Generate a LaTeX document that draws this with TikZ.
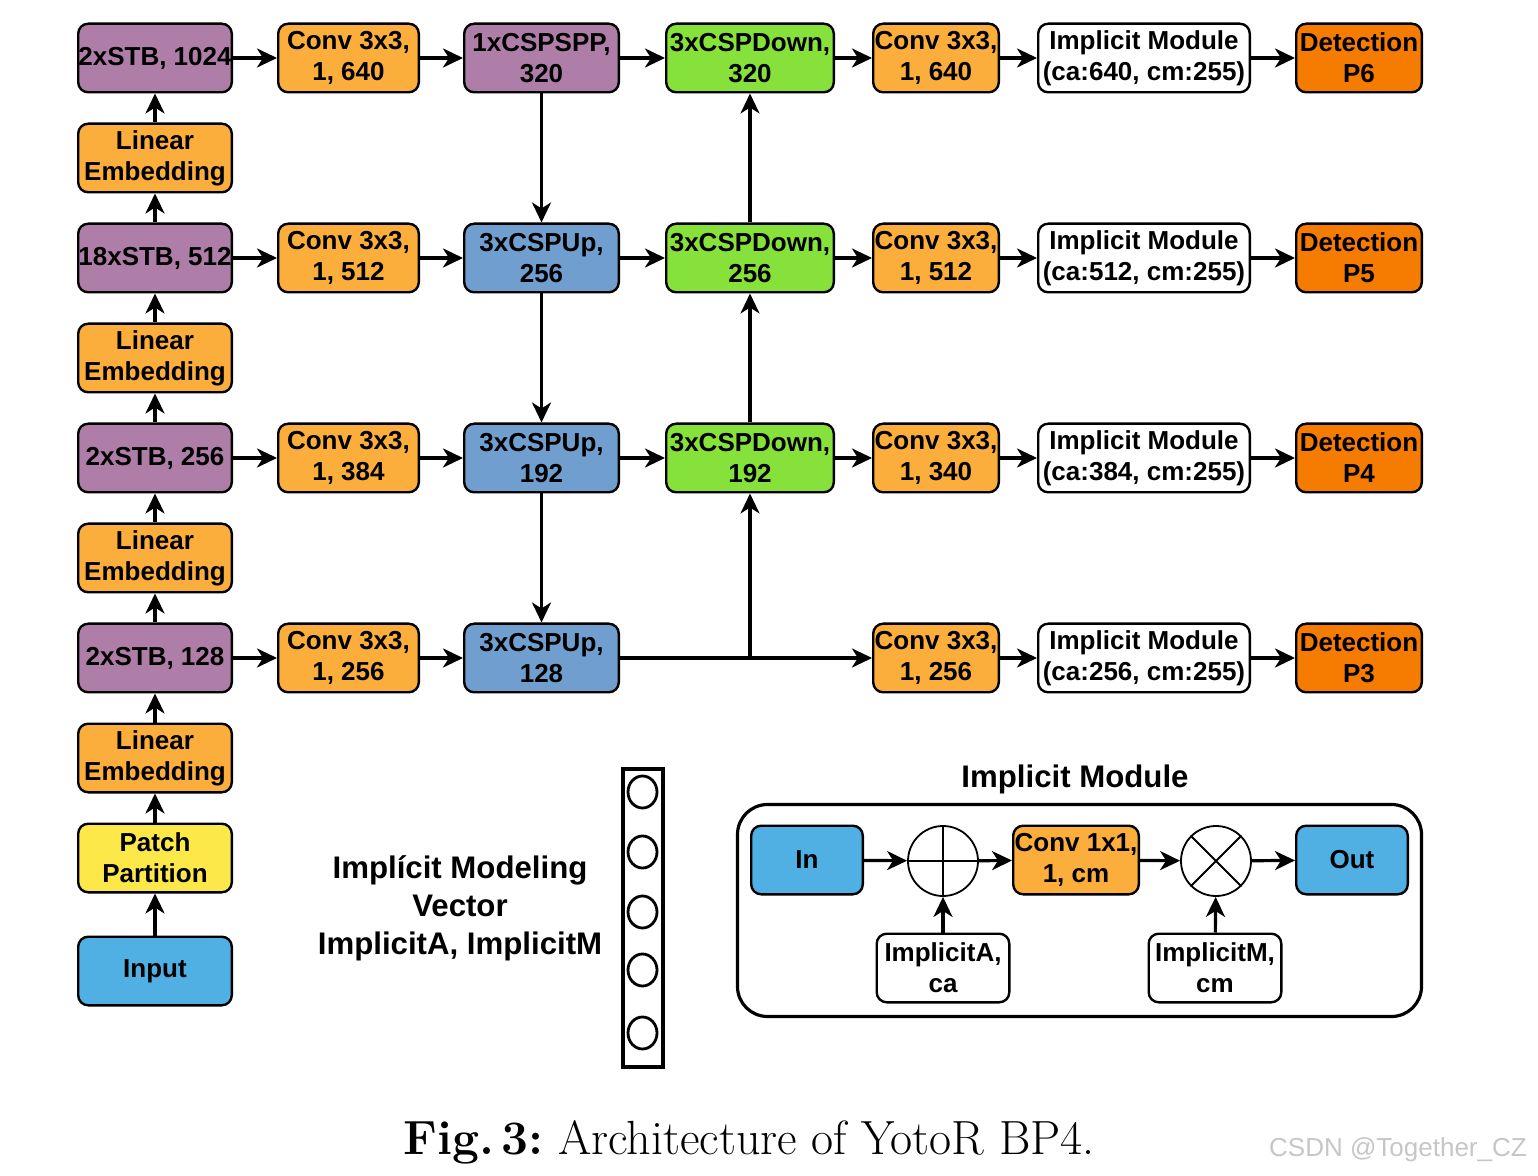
\documentclass[tikz,border=0pt]{standalone}
\usepackage{fontspec}
\newfontfamily\diagfont{Liberation Sans}
\usetikzlibrary{arrows.meta,positioning,shapes.geometric,calc}

\definecolor{stbpurple}{RGB}{174,126,168}
\definecolor{convorange}{RGB}{251,174,60}
\definecolor{upblue}{RGB}{112,158,207}
\definecolor{downgreen}{RGB}{134,226,58}
\definecolor{detorange}{RGB}{245,124,0}
\definecolor{patchyellow}{RGB}{253,232,74}
\definecolor{inblue}{RGB}{80,176,228}

\begin{document}
\begin{tikzpicture}[
  x=0.5pt, y=-0.5pt,
  node distance=14.5pt,
  blk/.style={
    draw=black, rounded corners=5pt, line width=1.2pt, align=center,
    minimum height=34.3pt, inner sep=0pt,
    font=\diagfont\bfseries\fontsize{13}{15.5}\selectfont},
  stb/.style={blk, fill=stbpurple, minimum width=76.8pt},
  emb/.style={blk, fill=convorange, minimum width=76.8pt},
  patch/.style={blk, fill=patchyellow, minimum width=76.8pt},
  inp/.style={blk, fill=inblue, minimum width=76.8pt},
  bconv/.style={blk, fill=convorange, minimum width=70.3pt},
  upblk/.style={blk, fill=upblue, minimum width=77.3pt},
  sppblk/.style={blk, fill=stbpurple, minimum width=77.3pt},
  dnblk/.style={blk, fill=downgreen, minimum width=83.8pt},
  hconv/.style={blk, fill=convorange, minimum width=62.8pt},
  impl/.style={blk, fill=white, minimum width=105.8pt},
  det/.style={blk, fill=detorange, minimum width=62.8pt},
  op/.style={draw=black, circle, minimum size=35pt, inner sep=0pt, line width=0.9pt},
  vec/.style={draw=black, ellipse, minimum width=14.5pt, minimum height=16pt,
    inner sep=0pt, line width=1.4pt},
  title/.style={font=\diagfont\bfseries\fontsize{15.6}{19}\selectfont, align=center},
  arr/.style={-{Stealth[length=10pt, width=9.5pt, inset=3pt]}, line width=1.6pt}
]
\useasboundingbox (0,0) rectangle (1538,1176);

% backbone column
\node[stb] (stbA) at (155,58) {2xSTB, 1024};
\node[emb, below=of stbA] (embA) {Linear\\Embedding};
\node[stb, below=of embA] (stbB) {18xSTB, 512};
\node[emb, below=of stbB] (embB) {Linear\\Embedding};
\node[stb, below=of embB] (stbC) {2xSTB, 256};
\node[emb, below=of stbC] (embC) {Linear\\Embedding};
\node[stb, below=of embC] (stbD) {2xSTB, 128};
\node[emb, below=of stbD] (embD) {Linear\\Embedding};
\node[patch, below=of embD] (patch) {Patch\\Partition};
\node[inp, below=21pt of patch] (input) {Input};

% row P6
\node[bconv, right=22pt of stbA] (bcA) {Conv 3x3,\\1, 640};
\node[sppblk, right=21.5pt of bcA] (spp) {1xCSPSPP,\\320};
\node[dnblk, right=22.5pt of spp] (dnA) {3xCSPDown,\\320};
\node[hconv, right=18.5pt of dnA] (hcA) {Conv 3x3,\\1, 640};
\node[impl, right=18.5pt of hcA] (imA) {Implicit Module\\(ca:640, cm:255)};
\node[det, right=22pt of imA] (detA) {Detection\\P6};

% row P5
\node[bconv, right=22pt of stbB] (bcB) {Conv 3x3,\\1, 512};
\node[upblk, right=21.5pt of bcB] (upB) {3xCSPUp,\\256};
\node[dnblk, right=22.5pt of upB] (dnB) {3xCSPDown,\\256};
\node[hconv, right=18.5pt of dnB] (hcB) {Conv 3x3,\\1, 512};
\node[impl, right=18.5pt of hcB] (imB) {Implicit Module\\(ca:512, cm:255)};
\node[det, right=22pt of imB] (detB) {Detection\\P5};

% row P4
\node[bconv, right=22pt of stbC] (bcC) {Conv 3x3,\\1, 384};
\node[upblk, right=21.5pt of bcC] (upC) {3xCSPUp,\\192};
\node[dnblk, right=22.5pt of upC] (dnC) {3xCSPDown,\\192};
\node[hconv, right=18.5pt of dnC] (hcC) {Conv 3x3,\\1, 340};
\node[impl, right=18.5pt of hcC] (imC) {Implicit Module\\(ca:384, cm:255)};
\node[det, right=22pt of imC] (detC) {Detection\\P4};

% row P3
\node[bconv, right=22pt of stbD] (bcD) {Conv 3x3,\\1, 256};
\node[upblk, right=21.5pt of bcD] (upD) {3xCSPUp,\\128};
\node[hconv] (hcD) at (hcC |- stbD) {Conv 3x3,\\1, 256};
\node[impl, right=18.5pt of hcD] (imD) {Implicit Module\\(ca:256, cm:255)};
\node[det, right=22pt of imD] (detD) {Detection\\P3};
\coordinate (brD) at (dnC |- upD);

\foreach \a/\b in {input/patch, patch/embD, embD/stbD, stbD/embC, embC/stbC,
    stbC/embB, embB/stbB, stbB/embA, embA/stbA,
    stbA/bcA, stbB/bcB, stbC/bcC, stbD/bcD,
    bcA/spp, bcB/upB, bcC/upC, bcD/upD,
    spp/upB, upB/upC, upC/upD,
    spp/dnA, upB/dnB, upC/dnC, brD/dnC, dnC/dnB, dnB/dnA,
    dnA/hcA, dnB/hcB, dnC/hcC, upD/hcD,
    hcA/imA, hcB/imB, hcC/imC, hcD/imD,
    imA/detA, imB/detB, imC/detC, imD/detD}
  \draw[arr] (\a) -- (\b);

% implicit modeling vector
\node[title] (vtxt) at (460,908) {Implícit Modeling\\Vector\\ImplicitA, ImplicitM};
\node[draw=black, line width=2pt, minimum width=20pt, minimum height=149pt,
  inner sep=0pt] (vbox) at (642.5,918) {};
\foreach \i/\y in {1/792, 2/852, 3/912, 4/970, 5/1033}
  \node[vec] (v\i) at (642.5,\y) {};

% implicit module detail
\node[draw=black, rounded corners=15pt, line width=1.6pt, minimum width=342pt,
  minimum height=106pt, inner sep=0pt] (imbox) at (1079.5,910.5) {};
\node[title] (imtitle) at (1075,779) {Implicit Module};
\node[blk, fill=inblue, minimum width=55.8pt] (in) at (807,860) {In};
\node[op] (add) at (943,861) {};
\node[hconv] (conva) at (1076,860) {Conv 1x1,\\1, cm};
\node[op] (mul) at (1216,861) {};
\node[blk, fill=inblue, minimum width=55.8pt] (out) at (1352,860) {Out};
\node[blk, fill=white, minimum width=66.3pt] (impA) at (943,968) {ImplicitA,\\ca};
\node[blk, fill=white, minimum width=66.3pt] (impM) at (1215,968) {ImplicitM,\\cm};
\draw[line width=0.9pt] (add.north) -- (add.south) (add.west) -- (add.east);
\draw[line width=0.9pt] (mul.north west) -- (mul.south east)
  (mul.north east) -- (mul.south west);

\foreach \a/\b in {in/add, add/conva, conva/mul, mul/out, impA/add, impM/mul}
  \draw[arr] (\a) -- (\b);

% caption
\node (cap) at (749,1142) {\fontsize{24}{28}\selectfont\textbf{Fig.\hspace{0.15em}3:}\hspace{0.3em}Architecture of YotoR BP4.};
\node[text=gray!45, font=\diagfont\fontsize{13}{15}\selectfont] (mark) at (1398,1150) {CSDN @Together\_CZ};

\end{tikzpicture}
\end{document}
